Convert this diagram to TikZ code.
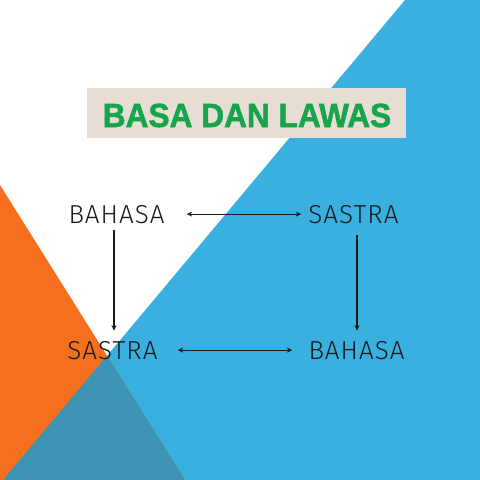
\documentclass[tikz,border=0pt]{standalone}
\usepackage{fontspec}
\setmainfont{Open Sans}
\newfontfamily\titlefont[FakeBold=1.6]{Liberation Sans Bold}
\newfontfamily\wordfont[LetterSpace=4]{Fira Sans Light}
\usetikzlibrary{arrows.meta}
\definecolor{skyblue}{HTML}{3AB0E0}
\definecolor{orangebg}{HTML}{F56F1E}
\definecolor{tealbg}{HTML}{3C93B4}
\definecolor{beigebox}{HTML}{E6DED4}
\definecolor{titlegreen}{HTML}{16A54A}
\tikzset{
  word/.style={inner sep=0pt, anchor=base, text=black!90, font=\wordfont\fontsize{26}{31}\selectfont},
  link/.style={line width=1.1pt, black!90, {Stealth[length=5.5pt,width=5pt]}-{Stealth[length=5.5pt,width=5pt]}},
  down/.style={line width=1.1pt, black!90, -{Stealth[length=5.5pt,width=5pt]}}
}
\begin{document}
\begin{tikzpicture}[x=1pt,y=-1pt]
\useasboundingbox (0,0) rectangle (480,480);
\fill[white] (0,0) rectangle (480,480);
\fill[skyblue] (405,0) -- (480,0) -- (480,480) -- (3,480) -- cycle;
\fill[orangebg] (0,185) -- (185,480) -- (0,480) -- cycle;
\begin{scope}
  \clip (405,0) -- (480,0) -- (480,480) -- (3,480) -- cycle;
  \fill[tealbg] (0,185) -- (185,480) -- (0,480) -- cycle;
\end{scope}
\fill[beigebox] (87,88) rectangle (406,138);
\node[inner sep=0pt, anchor=base, text=titlegreen, xscale=0.945,
  font=\titlefont\fontsize{33.5}{40}\selectfont] (title) at (247,127) {BASA DAN LAWAS};
\node[word] (b1) at (116.5,223) {BAHASA};
\node[word] (s1) at (353.5,223) {SASTRA};
\node[word] (s2) at (112.5,359) {SASTRA};
\node[word] (b2) at (356.5,359) {BAHASA};
\draw[link] ([xshift=22pt]b1.east) -- ([xshift=-7pt]s1.west);
\draw[link] ([xshift=20pt]s2.east) -- ([xshift=-16pt]b2.west);
\draw[down] ([xshift=-2.5pt,yshift=-7pt]b1.south) -- ([xshift=1.5pt,yshift=10pt]s2.north);
\draw[down] ([xshift=3.5pt,yshift=-12pt]s1.south) -- ([xshift=0.5pt,yshift=10pt]b2.north);
\end{tikzpicture}
\end{document}
